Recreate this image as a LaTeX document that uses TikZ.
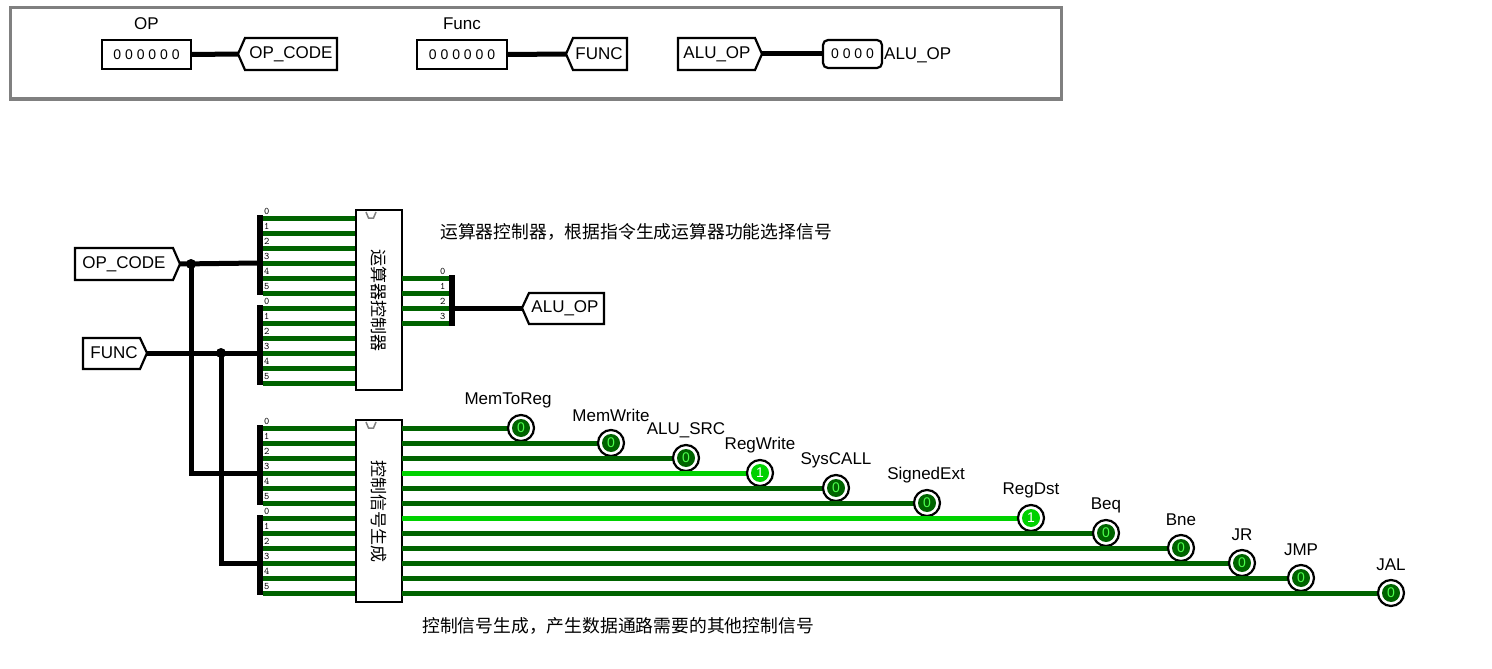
\documentclass[tikz,border=0pt]{standalone}
\usepackage{fontspec}
\setmainfont{Liberation Sans}
\newfontfamily\cjk{Noto Sans CJK SC}
\begin{document}
\begin{tikzpicture}[x=1pt,y=-1pt,
  dg/.style={draw=green!39!black,line width=5pt},
  bg/.style={draw=green!82!black,line width=5pt},
  bw/.style={line width=5pt},
  bar/.style={line width=6pt},
  tun/.style={draw,line width=2.2pt,fill=white},
  lab/.style={font=\fontsize{17}{17}\selectfont,inner sep=0pt},
  sm/.style={font=\fontsize{10}{10}\selectfont\ttfamily,inner sep=0pt,anchor=south west},
  dot/.style={circle,fill,inner sep=0pt,minimum size=10pt},
  led/.style={circle,draw,line width=2.2pt,fill=white,minimum size=26pt,inner sep=0pt},
  ledin/.style={circle,fill=green!39!black,minimum size=18pt,inner sep=0pt,text=green!70!white,font=\fontsize{14}{14}\selectfont},
  ledon/.style={circle,fill=green!82!black,minimum size=18pt,inner sep=0pt,text=white,font=\fontsize{14}{14}\selectfont},
  box/.style={draw,line width=2.2pt,fill=white},
  cn/.style={font=\cjk\fontsize{17}{17}\selectfont},
  cnh/.style={font=\cjk\fontsize{17.8}{17.8}\selectfont,inner sep=0pt,anchor=west}]
\useasboundingbox (0,0) rectangle (1492,669);
% top frame
\draw[gray,line width=3pt] (10,8) rectangle (1061,99);
% OP pin
\node[box,minimum width=89pt,minimum height=29pt,inner sep=0pt,font=\fontsize{14}{14}\selectfont] (op) at (146.5,54.5) {0 0 0 0 0 0};
\node[lab] (opl) at (146.5,24) {OP};
\draw[tun] (238,54) -- (245,38) -- (337,38) -- (337,70) -- (245,70) -- cycle;
\node[lab] (opc1) at (291,54) {OP\_CODE};
\draw[bw] (op.east) -- (238,54);
% Func pin
\node[box,minimum width=90pt,minimum height=29pt,inner sep=0pt,font=\fontsize{14}{14}\selectfont] (fn) at (462,54.5) {0 0 0 0 0 0};
\node[lab] (fnl) at (462,24) {Func};
\draw[tun] (566,54) -- (573,38) -- (627,38) -- (627,70) -- (573,70) -- cycle;
\node[lab] (fnc1) at (599,54) {FUNC};
\draw[bw] (fn.east) -- (566,54);
% ALU_OP top
\draw[tun] (678,38) -- (755,38) -- (762,54) -- (755,70) -- (678,70) -- cycle;
\node[lab] (aop1) at (717,54) {ALU\_OP};
\node[box,rounded corners=5pt,minimum width=59pt,minimum height=28pt,inner sep=0pt,font=\fontsize{14}{14}\selectfont] (aopin) at (852.5,54) {0 0 0 0};
\draw[bw] (762,54) -- (aopin.west);
\node[lab,anchor=west] (aopl) at (884,55) {ALU\_OP};
% main tunnels
\draw[tun] (75,248) -- (173,248) -- (180,264) -- (173,280) -- (75,280) -- cycle;
\node[lab] (opc2) at (124,264) {OP\_CODE};
\draw[tun] (83,338) -- (140,338) -- (147,353) -- (140,369) -- (83,369) -- cycle;
\node[lab] (fnc2) at (114,353) {FUNC};
\coordinate (s1) at (258,263); \coordinate (s2) at (258,353);
\coordinate (s3) at (258,473); \coordinate (s4) at (258,563);
\draw[bw] (180,264) -- (s1);
\draw[bw] (147,353) -- (s2);
\draw[bw] (191,264) -- (191,473) -- (s3);
\draw[bw] (221,353) -- (221,563) -- (s4);
\node[dot] (j1) at (191,264) {};
\node[dot] (j2) at (221,353) {};
% splitter bars
\foreach \a/\b in {215/295,305/385,425/505,515/595} \draw[bar] (260,\a) -- (260,\b);
% input fan lines
\foreach \i in {0,...,5} {
  \draw[dg] (263,218+15*\i) -- (356,218+15*\i);
  \node[sm] at (264,215+15*\i) {\i};
  \draw[dg] (263,308+15*\i) -- (356,308+15*\i);
  \node[sm] at (264,305+15*\i) {\i};
  \node[sm] at (264,425+15*\i) {\i};
  \node[sm] at (264,515+15*\i) {\i};
}
\foreach \i in {0,...,11} \draw[dg] (263,428+15*\i) -- (356,428+15*\i);
% boxes
\node[box,minimum width=46pt,minimum height=180pt,inner sep=0pt] (alc) at (379,300) {};
\node[rotate=-90,cn] at (379,300) {运算器控制器};
\draw[gray,line width=1.5pt] (366,212) -- (368.5,218) -- (373.5,218) -- (376,212);
\node[box,minimum width=46pt,minimum height=182pt,inner sep=0pt] (ctl) at (379,511) {};
\node[rotate=-90,cn] at (379,511) {控制信号生成};
\draw[gray,line width=1.5pt] (366,422) -- (368.5,428) -- (373.5,428) -- (376,422);
% ALU outputs
\foreach \i in {0,...,3} {
  \draw[dg] (402,278+15*\i) -- (450,278+15*\i);
  \node[sm] at (440,275+15*\i) {\i};
}
\draw[bar] (452,275) -- (452,326);
\draw[tun] (522,308) -- (529,293) -- (604,293) -- (604,324) -- (529,324) -- cycle;
\node[lab] (aop2) at (565,308) {ALU\_OP};
\draw[bw] (455,308) -- (522,308);
\node[cnh] at (440,232) {运算器控制器，根据指令生成运算器功能选择信号};
% control outputs
\foreach \i/\x/\t/\v/\lx in {0/521/MemToReg/0/508,1/611/MemWrite/0/611,2/686/ALU\_SRC/0/686,3/760/RegWrite/1/760,4/836/SysCALL/0/836,5/927/SignedExt/0/926,6/1031/RegDst/1/1031,7/1106/Beq/0/1106,8/1181/Bne/0/1181,9/1242/JR/0/1242,10/1301/JMP/0/1301,11/1391/JAL/0/1391} {
  \ifnum\v=1
    \draw[bg] (402,428+15*\i) -- (\x,428+15*\i);
    \node[led] (L\i) at (\x,428+15*\i) {};
    \node[ledon] at (\x,428+15*\i) {1};
  \else
    \draw[dg] (402,428+15*\i) -- (\x,428+15*\i);
    \node[led] (L\i) at (\x,428+15*\i) {};
    \node[ledin] at (\x,428+15*\i) {0};
  \fi
  \node[lab] at (\lx,400+15*\i) {\t};
}
\node[cnh] at (422,626) {控制信号生成，产生数据通路需要的其他控制信号};
\end{tikzpicture}
\end{document}
